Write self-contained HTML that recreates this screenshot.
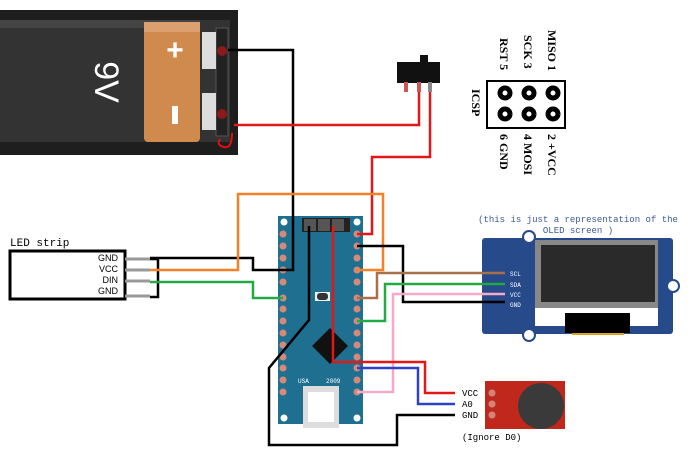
<!DOCTYPE html>
<html><head><meta charset="utf-8"><style>body{margin:0;background:#fff}svg{display:block}</style></head>
<body>
<svg width="700" height="459" viewBox="0 0 700 459" xmlns="http://www.w3.org/2000/svg" font-family="Liberation Mono, monospace">
<!-- Battery -->
<rect x="0" y="10" width="238" height="145" fill="#1e1e1e"/>
<rect x="0" y="20" width="230" height="122" fill="#333"/>
<rect x="0" y="20" width="200" height="8" fill="#444"/>
<rect x="144" y="22" width="56" height="120" rx="4" fill="#d08a4e"/>
<rect x="144" y="22" width="56" height="10" fill="#dca070"/>
<text x="175" y="60" font-family="Liberation Sans, sans-serif" font-size="30" font-weight="bold" fill="#fff" text-anchor="middle">+</text>
<rect x="172" y="106" width="6" height="18" fill="#fff"/>
<text transform="translate(95,82) rotate(90)" font-family="Liberation Sans, sans-serif" font-size="34" fill="#fff" text-anchor="middle">9V</text>
<rect x="216" y="28" width="12" height="108" fill="#222" stroke="#555"/>
<rect x="202" y="32" width="14" height="37" fill="#ddd"/>
<rect x="202" y="93" width="14" height="37" fill="#ddd"/>
<circle cx="222" cy="51" r="5" fill="#8b1a1a"/>
<circle cx="222" cy="114" r="5" fill="#8b1a1a"/>
<path d="M232 133 q0 16 -8 14 q-8 -2 -4 -8" fill="none" stroke="#e01010" stroke-width="2"/>
<!-- Switch -->
<rect x="420" y="55" width="8" height="8" fill="#111"/>
<rect x="397" y="62" width="43" height="21" fill="#111"/>
<rect x="404" y="82" width="4" height="10" fill="#c55"/>
<rect x="417" y="82" width="4" height="10" fill="#c55"/>
<rect x="428" y="82" width="4" height="10" fill="#888"/>
<!-- ICSP -->
<rect x="487" y="81" width="78" height="47" fill="#fff" stroke="#000" stroke-width="2"/>
<g fill="#fff" stroke="#000" stroke-width="5">
<circle cx="505" cy="93" r="5"/><circle cx="529" cy="93" r="5"/><circle cx="553" cy="93" r="5"/>
<circle cx="505" cy="114" r="5"/><circle cx="529" cy="114" r="5"/><circle cx="553" cy="114" r="5"/>
</g>
<g font-family="Liberation Serif, serif" font-size="12" font-weight="bold" fill="#000">
<text transform="translate(500,38) rotate(90)">RST  5</text>
<text transform="translate(524,35) rotate(90)">SCK  3</text>
<text transform="translate(548,30) rotate(90)">MISO  1</text>
<text transform="translate(500,134) rotate(90)">6    GND</text>
<text transform="translate(524,134) rotate(90)">4   MOSI</text>
<text transform="translate(548,134) rotate(90)">2   +VCC</text>
<text transform="translate(472,89) rotate(90)">ICSP</text>
</g>
<!-- LED strip -->
<text x="10" y="246" font-size="11">LED strip</text>
<rect x="10" y="251" width="115" height="48" fill="#fff" stroke="#000" stroke-width="3"/>
<g font-family="Liberation Sans, sans-serif" font-size="9" text-anchor="end">
<text x="118" y="261">GND</text><text x="118" y="272">VCC</text><text x="118" y="283">DIN</text><text x="118" y="294">GND</text>
</g>
<g stroke="#999" stroke-width="3"><line x1="125" y1="259" x2="150" y2="259"/><line x1="125" y1="270" x2="150" y2="270"/><line x1="125" y1="281" x2="150" y2="281"/><line x1="125" y1="296" x2="150" y2="296"/></g>
<!-- Nano -->
<rect x="278" y="216" width="85" height="208" fill="#1f7090"/>
<rect x="302" y="218" width="48" height="14" fill="#222"/>
<g fill="#555"><rect x="304" y="219" width="12" height="12"/><rect x="318" y="219" width="12" height="12"/><rect x="332" y="219" width="12" height="12"/></g>
<g fill="#d48a7a">
<circle cx="283" cy="234" r="3.5"/><circle cx="283" cy="246" r="3.5"/><circle cx="283" cy="258" r="3.5"/><circle cx="283" cy="270" r="3.5"/><circle cx="283" cy="282" r="3.5"/><circle cx="283" cy="298" r="3.5"/><circle cx="283" cy="309" r="3.5"/><circle cx="283" cy="321" r="3.5"/><circle cx="283" cy="333" r="3.5"/><circle cx="283" cy="345" r="3.5"/><circle cx="283" cy="357" r="3.5"/><circle cx="283" cy="368" r="3.5"/><circle cx="283" cy="380" r="3.5"/><circle cx="283" cy="392" r="3.5"/>
<circle cx="357" cy="234" r="3.5"/><circle cx="357" cy="246" r="3.5"/><circle cx="357" cy="258" r="3.5"/><circle cx="357" cy="270" r="3.5"/><circle cx="357" cy="282" r="3.5"/><circle cx="357" cy="298" r="3.5"/><circle cx="357" cy="309" r="3.5"/><circle cx="357" cy="321" r="3.5"/><circle cx="357" cy="333" r="3.5"/><circle cx="357" cy="345" r="3.5"/><circle cx="357" cy="357" r="3.5"/><circle cx="357" cy="368" r="3.5"/><circle cx="357" cy="380" r="3.5"/><circle cx="357" cy="392" r="3.5"/>
</g>
<g fill="#fff"><circle cx="284" cy="222" r="3.5"/><circle cx="357" cy="222" r="3.5"/><circle cx="284" cy="418" r="3.5"/><circle cx="357" cy="418" r="3.5"/></g>
<rect x="315" y="292" width="15" height="9" fill="#eee"/>
<rect x="317" y="293" width="11" height="7" fill="#333" rx="3"/>
<polygon points="330,328 348,346 330,364 312,346" fill="#111"/>
<rect x="303" y="386" width="36" height="42" fill="#ddd"/>
<rect x="308" y="392" width="26" height="30" fill="#fff"/>
<text x="298" y="383" font-size="6" fill="#fff">USA</text><text x="326" y="383" font-size="6" fill="#fff">2009</text>
<!-- OLED -->
<text x="578" y="222" font-size="9" fill="#3b5998" text-anchor="middle">(this is just a representation of the</text>
<text x="578" y="233" font-size="9" fill="#3b5998" text-anchor="middle">OLED screen )</text>
<rect x="482" y="238" width="191" height="96" rx="3" fill="#264a8a"/>
<circle cx="529" cy="237" r="6" fill="#fff" stroke="#264a8a" stroke-width="2"/>
<circle cx="529" cy="335" r="6" fill="#fff" stroke="#264a8a" stroke-width="2"/>
<circle cx="673" cy="286" r="6" fill="#fff" stroke="#264a8a" stroke-width="2"/>
<rect x="535" y="240" width="123" height="86" fill="#fff"/>
<rect x="535" y="240" width="123" height="68" fill="#888"/>
<rect x="541" y="245" width="114" height="57" fill="#2a2a2a"/>
<rect x="565" y="313" width="65" height="20" fill="#000"/>
<rect x="572" y="333" width="52" height="2" fill="#e0a020"/>
<g font-size="6" fill="#fff"><text x="510" y="276">SCL</text><text x="510" y="287">SDA</text><text x="510" y="297">VCC</text><text x="510" y="307">GND</text></g>
<!-- Mic -->
<rect x="485" y="381" width="80" height="48" fill="#c0281b"/>
<circle cx="541" cy="406" r="23" fill="#3a3a3a"/>
<g fill="#d9826e" stroke="#a33" ><circle cx="492" cy="393" r="4"/><circle cx="492" cy="404" r="4"/><circle cx="492" cy="415" r="4"/></g>
<g font-size="9"><text x="462" y="396">VCC</text><text x="462" y="407">A0</text><text x="462" y="418">GND</text><text x="462" y="440">(Ignore D0)</text></g>
<!-- Wires -->
<g fill="none" stroke-width="2.5" stroke-linejoin="miter">
<polyline stroke="#000" points="228,50 293,50 293,270 253,270 253,258 150,258"/>
<polyline stroke="#000" points="150,259 158,259 158,297 150,297"/>
<polyline stroke="#e01818" points="234,125 419,125 419,92"/>
<polyline stroke="#e01818" points="430,92 430,157 372,157 372,234 357,234"/>
<polyline stroke="#f58025" points="150,270 238,270 238,194 383,194 383,270 357,270"/>
<polyline stroke="#22aa44" points="150,282 253,282 253,298 283,298"/>
<polyline stroke="#000" points="357,246 403,246 403,302 505,302"/>
<polyline stroke="#a8704a" points="357,298 377,298 377,273 505,273"/>
<polyline stroke="#22aa44" points="357,321 385,321 385,284 505,284"/>
<polyline stroke="#f8a8c8" points="357,392 393,392 393,294 505,294"/>
<polyline stroke="#e01818" points="333,226 333,362 425,362 425,393 455,393"/>
<polyline stroke="#3040c8" points="357,368 418,368 418,404 455,404"/>
<polyline stroke="#000" points="309,226 309,320 269,368 269,445 397,445 397,415 455,415"/>
</g>
</svg>
</body></html>
